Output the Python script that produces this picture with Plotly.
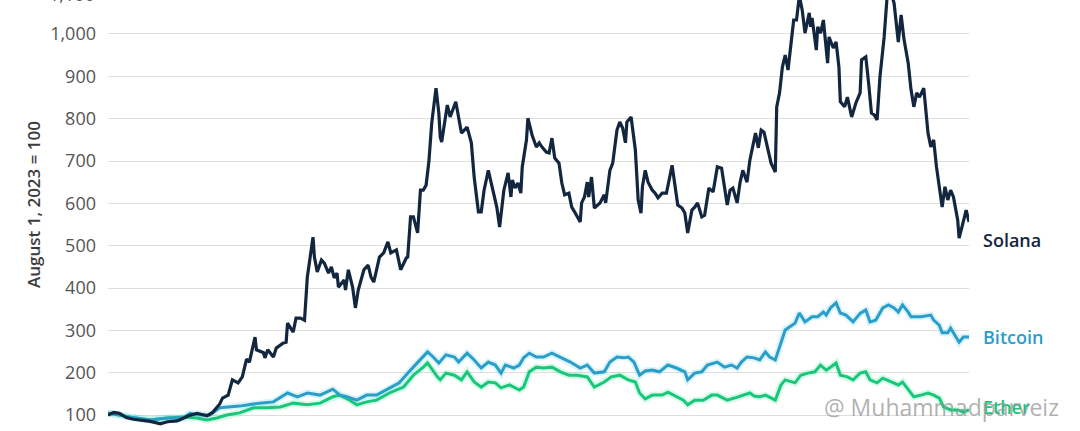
import plotly.graph_objects as go

# Index, August 1, 2023 = 100; x = days since Aug 1, 2023
sol_day = [0, 4, 8, 13, 18, 25, 30, 37, 42, 49, 57, 63, 70, 74, 79, 81, 85, 88, 92, 95, 98, 100, 104, 105,
           110, 111, 113, 117, 119, 124, 126, 127, 131, 133, 136, 139, 141, 145, 146, 148, 151, 153, 156, 158,
           160, 162, 163, 167, 168, 170, 173, 175, 177, 181, 184, 186, 188, 192, 195, 198, 200, 204, 207, 211,
           212, 214, 216, 219, 221, 223, 225, 227, 229, 232, 234, 235, 236, 240, 242, 246, 248, 250, 254, 257,
           259, 262, 264, 266, 269, 273, 275, 277, 280, 283, 285, 286, 288, 290, 292, 293, 296, 297, 300, 303,
           305, 307, 310, 312, 314, 316, 319, 321, 323, 326, 328, 330, 334, 335, 337, 339, 340, 342, 344, 348,
           351, 352, 355, 357, 360, 362, 364, 366, 367, 370, 373, 375, 377, 378, 380, 382, 385, 387, 389, 392,
           395, 399, 401, 403, 406, 408, 410, 413, 415, 417, 420, 422, 425, 428, 431, 434, 438, 440, 442, 445,
           447, 449, 452, 454, 457, 458, 460, 462, 464, 467, 469, 472, 473, 475, 477, 479, 481, 483, 485, 487,
           489, 491, 493, 496, 497, 498, 501, 502, 504, 506, 508, 509, 510, 513, 515, 517, 518, 521, 523, 526,
           529, 532, 533, 536, 538, 540, 542, 544, 546, 549, 551, 554, 556, 559, 561, 563, 566, 568, 570, 572,
           574, 577, 578, 580, 582, 584, 586, 588, 590, 592, 594, 596, 598, 601, 602, 604, 607, 609]
sol_val = [100, 106, 104, 94, 90, 87, 85, 79, 84, 86, 98, 104, 98, 106, 126, 140, 147, 183, 176, 190, 232, 225, 284, 254,
           247, 235, 254, 237, 258, 270, 272, 317, 296, 329, 329, 324, 426, 520, 473, 438, 466, 459, 435, 450,
           424, 435, 402, 419, 395, 443, 402, 353, 395, 443, 454, 426, 414, 473, 483, 509, 483, 490, 443, 471,
           473, 568, 568, 530, 631, 631, 643, 700, 790, 872, 813, 757, 745, 832, 804, 840, 797, 766, 780, 743,
           662, 580, 580, 631, 678, 624, 591, 544, 631, 672, 615, 655, 636, 648, 624, 686, 750, 801, 761, 733,
           743, 733, 721, 719, 754, 707, 695, 648, 620, 624, 591, 580, 556, 601, 615, 650, 615, 662, 589, 601,
           620, 601, 678, 695, 773, 792, 778, 743, 792, 804, 726, 608, 577, 639, 678, 650, 631, 624, 613, 624,
           624, 690, 648, 596, 589, 577, 530, 584, 591, 601, 568, 572, 636, 627, 686, 683, 596, 631, 636, 601,
           648, 678, 650, 702, 750, 766, 731, 773, 768, 719, 695, 674, 828, 861, 922, 950, 915, 974, 1033, 1033,
           1090, 1057, 1002, 1050, 1017, 1038, 962, 1017, 1002, 1033, 955, 931, 993, 967, 981, 922, 840, 828, 851, 804,
           837, 861, 939, 946, 884, 813, 809, 797, 898, 993, 1085, 1095, 1073, 981, 1045, 988, 931, 868, 828, 861,
           851, 872, 837, 766, 733, 750, 686, 639, 591, 639, 608, 631, 615, 561, 518, 544, 584, 556]

btc_day = [0, 1, 16, 30, 42, 53, 58, 65, 72, 79, 93, 107, 117, 127, 134, 141, 150, 159, 164, 169, 176, 183, 190, 197,
           206, 214, 221, 226, 230, 234, 239, 245, 248, 254, 259, 264, 269, 274, 278, 281, 287, 291, 294, 298,
           303, 308, 314, 321, 327, 334, 339, 344, 351, 355, 360, 365, 368, 372, 376, 380, 385, 390, 396, 402,
           408, 410, 415, 420, 424, 431, 436, 441, 445, 448, 452, 457, 461, 465, 468, 472, 475, 479, 482, 486,
           489, 493, 498, 502, 506, 508, 511, 515, 518, 522, 527, 530, 532, 536, 539, 543, 548, 552, 556, 559,
           562, 566, 568, 575, 582, 584, 588, 590, 594, 596, 600, 602, 605, 609]
btc_val = [100, 104, 95, 88, 93, 93, 104, 100, 100, 117, 121, 128, 131, 152, 143, 152, 147, 161, 147, 143, 135, 147, 147, 159,
           176, 206, 230, 249, 237, 223, 242, 237, 225, 246, 230, 211, 225, 218, 199, 218, 211, 218, 235, 246,
           237, 237, 246, 235, 225, 211, 218, 199, 202, 225, 237, 235, 237, 225, 194, 204, 206, 202, 218, 211,
           202, 183, 199, 202, 218, 225, 213, 218, 211, 225, 237, 235, 230, 249, 237, 230, 261, 301, 308, 317,
           341, 320, 332, 332, 343, 336, 353, 365, 341, 336, 320, 332, 340, 348, 320, 324, 353, 360, 353, 343,
           360, 343, 332, 332, 336, 324, 312, 294, 294, 305, 284, 272, 284, 284]

eth_day = [0, 1, 16, 30, 42, 53, 63, 70, 77, 84, 93, 103, 112, 122, 131, 141, 150, 159, 164, 171, 176, 183, 190, 199,
           209, 216, 223, 226, 233, 235, 239, 245, 250, 254, 259, 264, 269, 274, 278, 284, 291, 294, 298, 303,
           308, 314, 320, 326, 332, 339, 344, 351, 356, 362, 368, 373, 376, 380, 385, 392, 396, 402, 407, 410,
           415, 421, 427, 431, 438, 443, 449, 454, 457, 461, 465, 472, 476, 479, 486, 490, 495, 500, 504, 508,
           511, 515, 518, 523, 527, 532, 536, 539, 544, 548, 554, 559, 562, 566, 570, 575, 580, 584, 588, 591,
           596, 601, 605, 609]
eth_val = [100, 104, 95, 88, 93, 95, 93, 88, 93, 100, 105, 117, 117, 119, 128, 124, 128, 143, 147, 135, 124, 131, 135, 152,
           166, 194, 213, 223, 190, 183, 199, 194, 183, 202, 178, 166, 178, 176, 164, 171, 159, 166, 202, 213,
           211, 213, 202, 194, 194, 190, 166, 178, 190, 194, 183, 178, 152, 138, 147, 147, 154, 143, 135, 124,
           135, 135, 147, 147, 135, 140, 147, 152, 145, 143, 147, 135, 171, 183, 176, 194, 199, 202, 218, 206,
           213, 223, 194, 190, 183, 199, 202, 183, 176, 187, 178, 171, 178, 159, 143, 147, 152, 147, 140, 119,
           112, 112, 107, 112]

tick_vals = [100, 200, 300, 400, 500, 600, 700, 800, 900, 1000]
tick_text = ["100", "200", "300", "400", "500", "600", "700", "800", "900", "1,000"]

SOL_C = "#13263f"
BTC_C = "#2a9dc9"
ETH_C = "#18c77a"
FONT = "'Open Sans', 'Noto Sans', sans-serif"

fig = go.Figure()
# soft halo under the coloured lines
fig.add_trace(go.Scatter(x=eth_day, y=eth_val, mode="lines", line=dict(color="rgba(60,230,150,0.2)", width=7),
                         hoverinfo="skip", showlegend=False))
fig.add_trace(go.Scatter(x=btc_day, y=btc_val, mode="lines", line=dict(color="rgba(80,200,235,0.2)", width=7),
                         hoverinfo="skip", showlegend=False))
fig.add_trace(go.Scatter(x=eth_day, y=eth_val, mode="lines", name="Ether", line=dict(color=ETH_C, width=3)))
fig.add_trace(go.Scatter(x=btc_day, y=btc_val, mode="lines", name="Bitcoin", line=dict(color=BTC_C, width=3)))
fig.add_trace(go.Scatter(x=sol_day, y=sol_val, mode="lines", name="Solana", line=dict(color=SOL_C, width=3.2)))

YMIN, YMAX = 62.2, 1080.3

fig.update_layout(
    width=1080, height=431,
    margin=dict(l=108, r=111, t=0, b=0),
    paper_bgcolor="white", plot_bgcolor="white",
    showlegend=False,
    font=dict(family=FONT, color="#555555"),
    xaxis=dict(range=[0, 609], visible=False),
    yaxis=dict(range=[YMIN, YMAX], tickvals=tick_vals, ticktext=tick_text,
               showgrid=True, gridcolor="#dedede", gridwidth=1, zeroline=False, showline=False,
               ticks="", ticklabelstandoff=11,
               tickfont=dict(family=FONT, size=18, color="#555555")),
)

annotations = [
    dict(text="1,100", xref="paper", yref="paper", x=0, xshift=-11, y=(1100 - YMIN) / (YMAX - YMIN), yshift=-2,
         xanchor="right", yanchor="middle", showarrow=False, font=dict(family=FONT, size=18, color="#555555")),
    dict(text="August 1, 2023 = 100", xref="paper", yref="paper", x=(33 - 108) / 861, y=1 - 205 / 431,
         textangle=-90, xanchor="center", yanchor="middle", showarrow=False,
         font=dict(family=FONT, size=17, color="#3c3c3c", weight=600)),
    dict(text="Solana", xref="paper", yref="y", x=1, xshift=12, y=513, xanchor="left", yanchor="middle",
         showarrow=False, font=dict(family=FONT, size=18, color=SOL_C, weight=600)),
    dict(text="Bitcoin", xref="paper", yref="y", x=1, xshift=12, y=284, xanchor="left", yanchor="middle",
         showarrow=False, font=dict(family=FONT, size=18, color=BTC_C, weight=600)),
    dict(text="Ether", xref="paper", yref="y", x=1, xshift=12, y=119, xanchor="left", yanchor="middle",
         showarrow=False, font=dict(family=FONT, size=18, color=ETH_C, weight=600)),
    dict(text="@ Muhammadparveiz", xref="paper", yref="paper", x=(822 - 108) / 861, y=1 - 407 / 431,
         xanchor="left", yanchor="middle", showarrow=False,
         font=dict(family=FONT, size=23, color="rgba(150,150,150,0.75)")),
]
fig.update_layout(annotations=annotations)

fig.write_html("out.html", config={"displayModeBar": False},
               post_script="document.body.style.margin='0';document.body.style.overflow='hidden';")
